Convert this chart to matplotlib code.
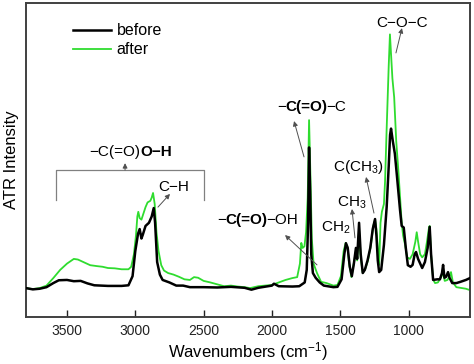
import matplotlib
matplotlib.use('Agg')
import matplotlib.pyplot as plt

plt.rcParams['font.family'] = ['Liberation Sans', 'DejaVu Sans']
plt.rcParams['mathtext.fontset'] = 'custom'
plt.rcParams['mathtext.rm'] = 'Liberation Sans'
plt.rcParams['mathtext.it'] = 'Liberation Sans'
plt.rcParams['mathtext.bf'] = 'Liberation Sans:bold'

# spectrum before treatment (wavenumber, intensity)
wn_before = [3800, 3750, 3700, 3650, 3600, 3560, 3500, 3450, 3400, 3350, 3300, 3200, 3100, 3050,
             3020, 3000, 2980, 2968, 2955, 2945, 2925, 2900, 2880, 2865, 2855, 2840, 2820, 2800,
             2750, 2700, 2650, 2600, 2500, 2400, 2300, 2200, 2150, 2100, 2000, 1985, 1950, 1850,
             1800, 1760, 1745, 1735, 1728, 1720, 1712, 1700, 1680, 1650, 1620, 1550, 1520, 1490,
             1470, 1458, 1445, 1430, 1415, 1400, 1385, 1376, 1362, 1350, 1335, 1320, 1300, 1280,
             1262, 1245, 1235, 1225, 1215, 1200, 1180, 1160, 1145, 1135, 1128, 1115, 1100, 1085,
             1062, 1050, 1035, 1020, 1005, 985, 970, 955, 945, 930, 900, 880, 860, 845, 835, 820,
             790, 770, 755, 747, 737, 725, 711, 700, 680, 650, 620, 580, 550]
int_before = [0.092, 0.088, 0.090, 0.095, 0.108, 0.117, 0.118, 0.114, 0.115, 0.107, 0.101, 0.099,
              0.099, 0.101, 0.130, 0.210, 0.265, 0.280, 0.250, 0.262, 0.290, 0.300, 0.320, 0.347,
              0.300, 0.175, 0.135, 0.118, 0.110, 0.100, 0.100, 0.095, 0.095, 0.094, 0.096, 0.093,
              0.087, 0.093, 0.100, 0.106, 0.098, 0.097, 0.098, 0.110, 0.150, 0.300, 0.540, 0.400,
              0.200, 0.140, 0.125, 0.110, 0.100, 0.095, 0.096, 0.120, 0.200, 0.235, 0.220, 0.160,
              0.130, 0.170, 0.220, 0.185, 0.300, 0.200, 0.140, 0.150, 0.180, 0.220, 0.280, 0.312,
              0.260, 0.180, 0.143, 0.150, 0.230, 0.350, 0.480, 0.580, 0.600, 0.560, 0.520, 0.450,
              0.340, 0.290, 0.285, 0.220, 0.165, 0.160, 0.166, 0.200, 0.207, 0.185, 0.156, 0.175,
              0.220, 0.287, 0.200, 0.118, 0.120, 0.120, 0.140, 0.166, 0.125, 0.128, 0.143, 0.125,
              0.108, 0.108, 0.112, 0.118, 0.124]

# spectrum after treatment
wn_after = [3800, 3750, 3700, 3650, 3600, 3550, 3500, 3450, 3420, 3380, 3330, 3280, 3240, 3200,
            3150, 3100, 3050, 3030, 3010, 2995, 2985, 2978, 2968, 2955, 2940, 2925, 2910, 2890,
            2880, 2870, 2858, 2845, 2830, 2810, 2790, 2760, 2720, 2680, 2640, 2600, 2570, 2540,
            2500, 2450, 2400, 2350, 2300, 2250, 2200, 2160, 2100, 2050, 2000, 1950, 1900, 1850,
            1815, 1795, 1785, 1775, 1762, 1750, 1738, 1728, 1718, 1708, 1695, 1670, 1640, 1600,
            1550, 1520, 1495, 1475, 1460, 1448, 1435, 1418, 1405, 1385, 1376, 1362, 1350, 1335,
            1315, 1297, 1275, 1258, 1245, 1235, 1225, 1215, 1205, 1195, 1180, 1172, 1160, 1145,
            1136, 1128, 1118, 1105, 1090, 1075, 1062, 1050, 1040, 1025, 1010, 990, 970, 950, 940,
            930, 915, 900, 880, 865, 850, 845, 835, 820, 806, 785, 765, 747, 735, 715, 700, 689,
            675, 650, 620, 600, 580, 560, 550]
int_after = [0.092, 0.089, 0.092, 0.100, 0.124, 0.150, 0.170, 0.185, 0.183, 0.175, 0.165, 0.162,
             0.160, 0.156, 0.155, 0.152, 0.152, 0.160, 0.200, 0.260, 0.320, 0.335, 0.315, 0.310,
             0.330, 0.350, 0.365, 0.370, 0.380, 0.395, 0.360, 0.270, 0.210, 0.165, 0.148, 0.140,
             0.135, 0.128, 0.120, 0.118, 0.127, 0.125, 0.115, 0.110, 0.104, 0.098, 0.100, 0.097,
             0.095, 0.092, 0.098, 0.100, 0.102, 0.110, 0.118, 0.124, 0.127, 0.170, 0.236, 0.220,
             0.225, 0.270, 0.380, 0.627, 0.450, 0.250, 0.170, 0.140, 0.112, 0.108, 0.100, 0.102,
             0.130, 0.210, 0.236, 0.225, 0.170, 0.127, 0.160, 0.210, 0.180, 0.277, 0.190, 0.140,
             0.155, 0.180, 0.230, 0.290, 0.310, 0.280, 0.220, 0.166, 0.300, 0.335, 0.360, 0.430,
             0.600, 0.800, 0.900, 0.840, 0.760, 0.700, 0.560, 0.470, 0.380, 0.300, 0.260, 0.230,
             0.190, 0.185, 0.200, 0.240, 0.270, 0.240, 0.200, 0.190, 0.200, 0.240, 0.285, 0.290,
             0.200, 0.120, 0.108, 0.110, 0.125, 0.140, 0.115, 0.118, 0.130, 0.143, 0.110, 0.095,
             0.093, 0.092, 0.090, 0.087, 0.086]

W, H = 474, 364
fig = plt.figure(figsize=(W / 100, H / 100), dpi=100)
ax = fig.add_axes([26 / W, (H - 317) / H, 444 / W, 314 / H])

green = '#2fdc2f'
ax.plot(wn_before, int_before, color='black', lw=1.8, label='before', zorder=3)
ax.plot(wn_after, int_after, color=green, lw=1.3, label='after', zorder=2)

ax.set_xlim(3800, 550)
ax.set_ylim(0, 1)
ax.set_xticks([3500, 3000, 2500, 2000, 1500, 1000])
ax.set_yticks([])
ax.tick_params(axis='x', direction='in', length=5, width=1, pad=5, labelsize=10, colors='#222')
for s in ax.spines.values():
    s.set_color('#404040')
    s.set_linewidth(1.4)

ax.set_xlabel('Wavenumbers (cm$^{-1}$)', fontsize=12, va='top')
ax.xaxis.set_label_coords(0.5, -0.075)
ax.set_ylabel('ATR Intensity', fontsize=12)
ax.yaxis.set_label_coords(-0.016, 0.5)

ax.legend(loc='upper left', bbox_to_anchor=(0.105, 0.935), frameon=False, fontsize=11.5,
          handlelength=2.4, handletextpad=0.35, labelspacing=0.25, borderpad=0, borderaxespad=0)

FS = 11
MINUS = '\u2212'


def rich(x, y, parts):
    # draw text pieces one after another, normal / bold
    t = ax.text(x, y, parts[0][0], fontsize=FS, fontweight=parts[0][1], va='center', ha='left')
    prev = parts[0][1]
    for s, w in parts[1:]:
        dx = -1.2 if prev == 'bold' else 0
        t = ax.annotate(s, xy=(1, 0), xycoords=t, xytext=(dx, 0), textcoords='offset points',
                        va='bottom', ha='left', fontsize=FS, fontweight=w)
        prev = w


arrow = dict(arrowstyle='-|>', color='#505050', lw=0.7, mutation_scale=7, shrinkA=0, shrinkB=0)


def pointer(x0, y0, x1, y1):
    ax.annotate('', xy=(x1, y1), xytext=(x0, y0), arrowprops=arrow)


# bracket for the O-H region
ax.plot([3580, 3580, 2500, 2500], [0.373, 0.468, 0.468, 0.373], color='#808080', lw=0.9)
pointer(3075, 0.468, 3075, 0.49)
rich(3339, 0.525, [(MINUS + 'C(=O)', 'normal'), ('O' + MINUS + 'H', 'bold')])

ax.text(2834, 0.414, 'C' + MINUS + 'H', fontsize=FS, va='center')
pointer(2834, 0.350, 2746, 0.392)

rich(1963, 0.669, [(MINUS, 'normal'), ('C(=O)', 'bold'), (MINUS + 'C', 'normal')])
pointer(1765, 0.510, 1838, 0.624)

rich(2402, 0.309, [(MINUS, 'normal'), ('C(=O)', 'bold'), (MINUS + 'OH', 'normal')])
pointer(1670, 0.166, 1904, 0.261)

ax.text(1641, 0.283, 'CH$_2$', fontsize=FS, va='center')
ax.text(1523, 0.363, 'CH$_3$', fontsize=FS, va='center')
pointer(1392, 0.252, 1414, 0.344)

ax.text(1553, 0.478, 'C(CH$_3$)', fontsize=FS, va='center')
pointer(1253, 0.331, 1311, 0.446)

ax.text(1238, 0.936, 'C' + MINUS + 'O' + MINUS + 'C', fontsize=FS, va='center')
pointer(1092, 0.841, 1048, 0.920)

fig.savefig('out.png', dpi=100)
